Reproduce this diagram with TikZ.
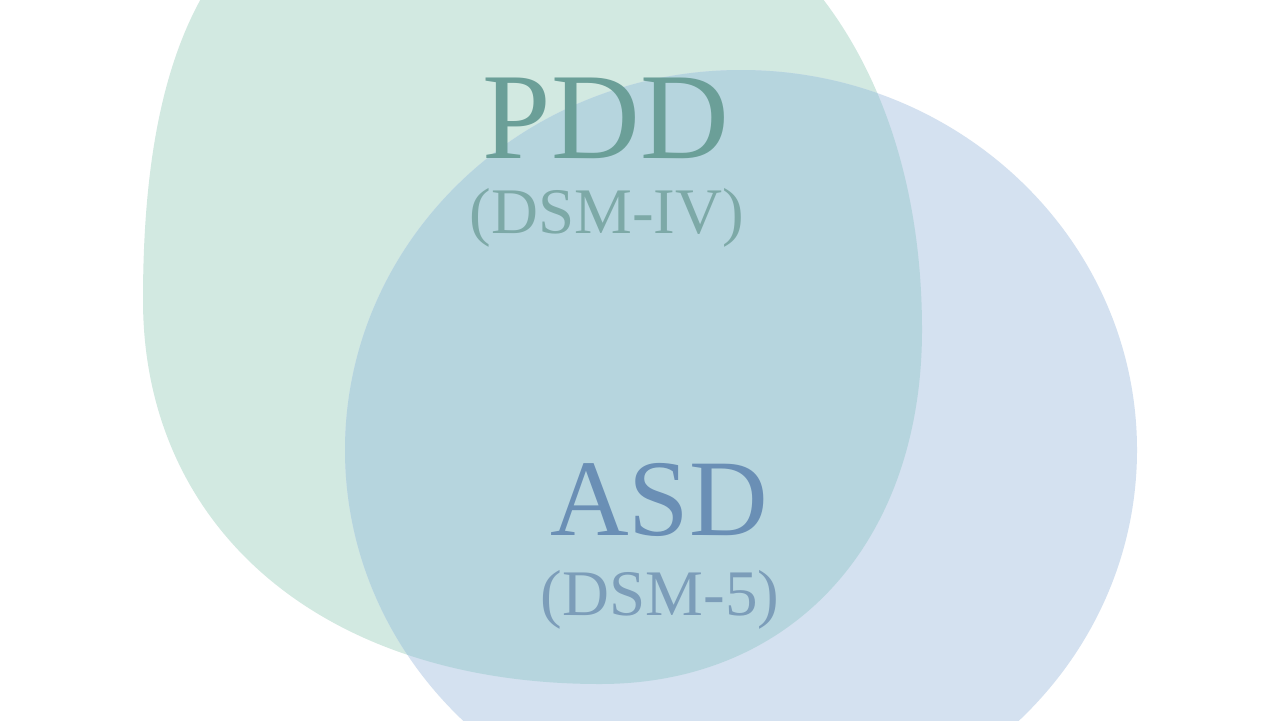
\documentclass[tikz,border=0pt]{standalone}
\usepackage{fontspec}
\setmainfont{Liberation Serif}
\definecolor{pddfill}{HTML}{D2E9E1}
\definecolor{asdfill}{HTML}{D4E1F0}
\definecolor{bothfill}{HTML}{B6D5DE}
\definecolor{pddtext}{HTML}{6B9F98}
\definecolor{pddsub}{HTML}{7DA9A7}
\definecolor{asdtext}{HTML}{6A8FB5}
\definecolor{asdsub}{HTML}{7C9DB9}
\newcommand\pddblob{(143,300)
  .. controls (143,528) and (322,684) .. (600,684)
  .. controls (793,684) and (922,542) .. (922,330)
  .. controls (922,45) and (761,-150) .. (510,-150)
  .. controls (250,-150) and (143,-15) .. (143,300) -- cycle}
\newcommand\asdblob{(741,450) ellipse [x radius=396, y radius=380]}
\tikzset{
  bigpdd/.style={text=pddtext, anchor=base, inner sep=0pt, font=\fontsize{70}{84}\selectfont},
  subpdd/.style={text=pddsub, anchor=base, inner sep=0pt, font=\fontsize{37}{44}\selectfont},
  bigasd/.style={text=asdtext, anchor=base, inner sep=0pt, font=\fontsize{62}{74}\selectfont},
  subasd/.style={text=asdsub, anchor=base, inner sep=0pt, font=\fontsize{37}{44}\selectfont}
}
\begin{document}
\begin{tikzpicture}[x=0.02cm, y=-0.02cm]
\useasboundingbox (0,0) rectangle (1280,720);
\clip (0,0) rectangle (1280,720);
\fill[white] (0,0) rectangle (1280,720);
\fill[pddfill] \pddblob;
\fill[asdfill] \asdblob;
\begin{scope}
  \clip \pddblob;
  \fill[bothfill] \asdblob;
\end{scope}
\node[bigpdd] (pdd) at (606,158) {PDD};
\node[subpdd] (pddv) at (607,233) {(DSM-IV)};
\node[bigasd] (asd) at (659,535) {ASD};
\node[subasd] (asdv) at (660,615) {(DSM-5)};
\end{tikzpicture}
\end{document}
